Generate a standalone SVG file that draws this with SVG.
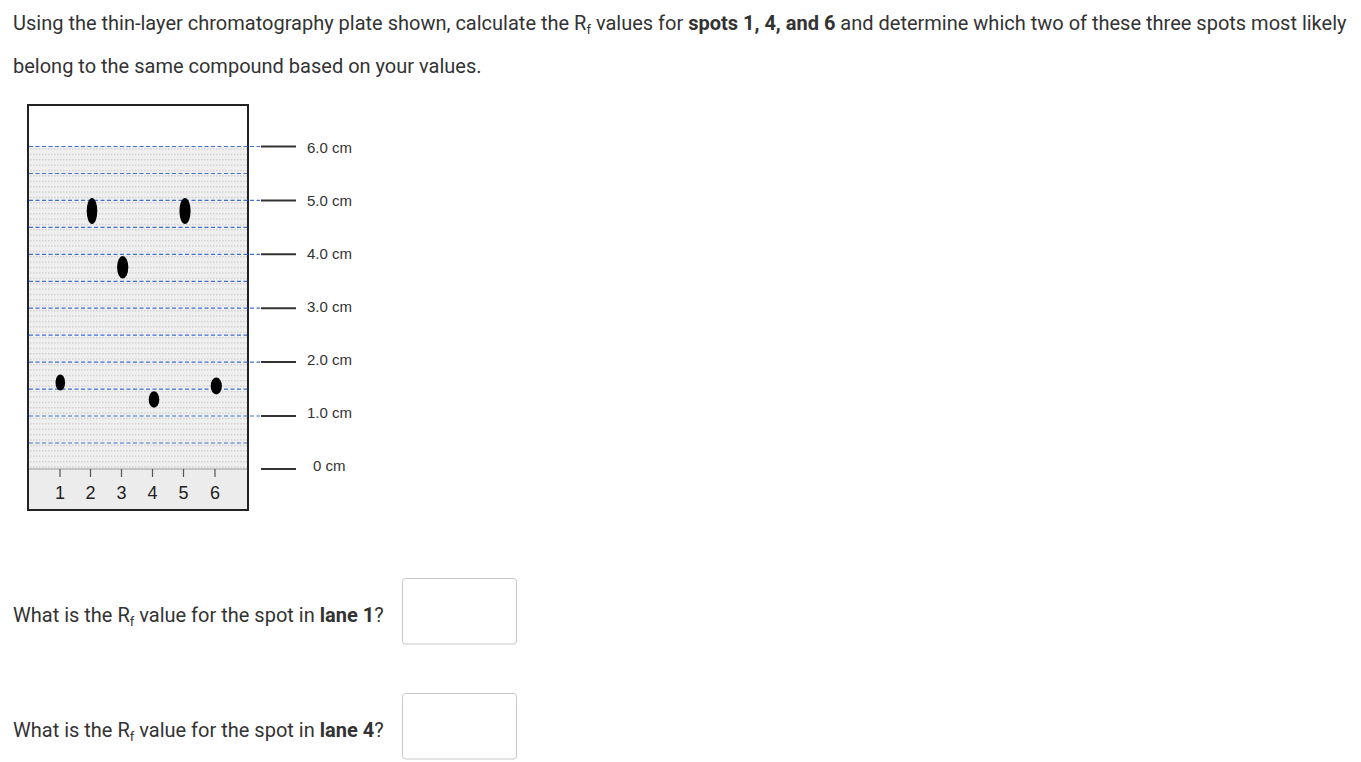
<svg xmlns="http://www.w3.org/2000/svg" width="1361" height="762" viewBox="0 0 1361 762">
<style>
.q{font-family:Roboto,"Liberation Sans",sans-serif;font-size:20px;fill:#333}
.b{font-weight:700}
.sub{font-size:13px}
.lbl{font-family:"Liberation Sans",Arial,sans-serif;font-size:15px;fill:#333}
.num{font-family:"Liberation Sans",Arial,sans-serif;font-size:18px;fill:#222;text-anchor:middle}
.dash{stroke:#3f6fd6;stroke-width:1.2;stroke-dasharray:4 2.5;fill:none}
.tick{stroke:#333;stroke-width:2}
.lt{stroke:#555;stroke-width:1.2}
.spot{fill:#000}
.box{fill:#fff;stroke:#c8c8c8;stroke-width:1}
</style>
<defs>
<pattern id="dots" width="3" height="5.39" patternUnits="userSpaceOnUse" y="146.5">
<rect width="3" height="5.39" fill="#efefef"/>
<rect x="0" y="2" width="1.5" height="1" fill="#c4c4c4"/>
</pattern>
</defs>
<rect width="1361" height="762" fill="#fff"/>
<g id="title">
<text class="q" x="13" y="30">Using the thin-layer chromatography plate shown, calculate the R<tspan class="sub" dy="4">f</tspan><tspan dy="-4"> values for </tspan><tspan class="b">spots 1, 4, and 6</tspan> and determine which two of these three spots most likely</text>
<text class="q" x="13" y="73">belong to the same compound based on your values.</text>
</g>
<g id="plate">
<rect x="28" y="105" width="220" height="405" fill="#fff"/>
<rect x="29" y="146.5" width="218" height="322.5" fill="url(#dots)"/>
<rect x="29" y="469" width="218" height="40" fill="#ececec"/>
<line x1="29" y1="469" x2="247" y2="469" stroke="#999" stroke-width="1"/>
<g id="lane-ticks">
<line class="lt" x1="60" y1="469" x2="60" y2="477"/>
<line class="lt" x1="90.5" y1="469" x2="90.5" y2="477"/>
<line class="lt" x1="121.5" y1="469" x2="121.5" y2="477"/>
<line class="lt" x1="152.5" y1="469" x2="152.5" y2="477"/>
<line class="lt" x1="183.5" y1="469" x2="183.5" y2="477"/>
<line class="lt" x1="215" y1="469" x2="215" y2="477"/>
</g>
<text class="num" x="60" y="499">1</text>
<text class="num" x="90.5" y="499">2</text>
<text class="num" x="121.5" y="499">3</text>
<text class="num" x="152.5" y="499">4</text>
<text class="num" x="183.5" y="499">5</text>
<text class="num" x="215" y="499">6</text>
<rect x="28" y="105" width="220" height="405" fill="none" stroke="#222" stroke-width="2"/>
</g>
<g id="connectors">
<line class="dash" x1="29" y1="146.5" x2="260" y2="146.5"/>
<line class="dash" x1="29" y1="173.5" x2="247" y2="173.5"/>
<line class="dash" x1="29" y1="200.4" x2="260" y2="200.4"/>
<line class="dash" x1="29" y1="227.4" x2="247" y2="227.4"/>
<line class="dash" x1="29" y1="254.3" x2="260" y2="254.3"/>
<line class="dash" x1="29" y1="281.3" x2="247" y2="281.3"/>
<line class="dash" x1="29" y1="308.2" x2="260" y2="308.2"/>
<line class="dash" x1="29" y1="335.2" x2="247" y2="335.2"/>
<line class="dash" x1="29" y1="362.1" x2="260" y2="362.1"/>
<line class="dash" x1="29" y1="389.1" x2="247" y2="389.1"/>
<line class="dash" x1="29" y1="416" x2="260" y2="416"/>
<line class="dash" x1="29" y1="443" x2="247" y2="443"/>
</g>
<g id="spots">
<ellipse class="spot" cx="60.3" cy="382.5" rx="4.8" ry="8"/>
<ellipse class="spot" cx="92" cy="211" rx="5.3" ry="13"/>
<ellipse class="spot" cx="122.7" cy="267.3" rx="5.6" ry="11.3"/>
<ellipse class="spot" cx="154" cy="399.5" rx="5.3" ry="8.2"/>
<ellipse class="spot" cx="185" cy="211" rx="5.6" ry="13"/>
<ellipse class="spot" cx="216.3" cy="386" rx="5.6" ry="8.5"/>
</g>
<g id="scale">
<line class="tick" x1="261" y1="146.5" x2="296" y2="146.5"/>
<line class="tick" x1="261" y1="200.4" x2="296" y2="200.4"/>
<line class="tick" x1="261" y1="254.3" x2="296" y2="254.3"/>
<line class="tick" x1="261" y1="308.2" x2="296" y2="308.2"/>
<line class="tick" x1="261" y1="362.1" x2="296" y2="362.1"/>
<line class="tick" x1="261" y1="416" x2="296" y2="416"/>
<line class="tick" x1="261" y1="469" x2="296" y2="469"/>
<text class="lbl" x="307" y="152.5">6.0 cm</text>
<text class="lbl" x="307" y="206">5.0 cm</text>
<text class="lbl" x="307" y="259">4.0 cm</text>
<text class="lbl" x="307" y="312">3.0 cm</text>
<text class="lbl" x="307" y="365">2.0 cm</text>
<text class="lbl" x="307" y="417.5">1.0 cm</text>
<text class="lbl" x="313" y="470.5">0 cm</text>
</g>
<g id="q1">
<text class="q" x="13" y="622">What is the R<tspan class="sub" dy="4">f</tspan><tspan dy="-4"> value for the spot in </tspan><tspan class="b">lane 1</tspan>?</text>
<rect class="box" x="402.5" y="578.5" width="114" height="65.5" rx="3"/>
</g>
<g id="q2">
<text class="q" x="13" y="737">What is the R<tspan class="sub" dy="4">f</tspan><tspan dy="-4"> value for the spot in </tspan><tspan class="b">lane 4</tspan>?</text>
<rect class="box" x="402.5" y="693.5" width="114" height="65.5" rx="3"/>
</g>
</svg>
